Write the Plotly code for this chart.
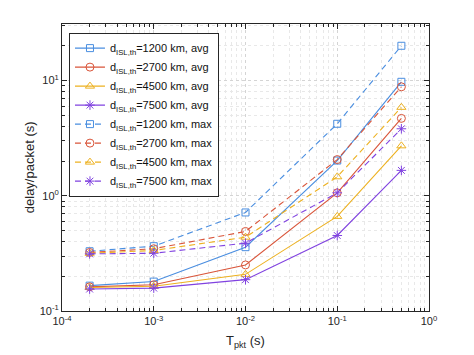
import plotly.graph_objects as go

t_pkt = [2e-4, 1e-3, 1e-2, 1e-1, 0.5]
distances = ["1200", "2700", "4500", "7500"]
avg_1200 = [0.166, 0.180, 0.358, 2.02, 9.74]
avg_2700 = [0.162, 0.169, 0.251, 1.06, 4.69]
avg_4500 = [0.160, 0.164, 0.208, 0.662, 2.71]
avg_7500 = [0.155, 0.158, 0.187, 0.452, 1.66]
max_1200 = [0.330, 0.365, 0.716, 4.21, 20.0]
max_2700 = [0.322, 0.347, 0.490, 2.06, 8.81]
max_4500 = [0.317, 0.335, 0.437, 1.46, 5.85]
max_7500 = [0.313, 0.317, 0.388, 1.06, 3.81]

x_tickvals = [1e-4, 1e-3, 1e-2, 1e-1, 1]
x_ticktext = ["10<sup>-4</sup>", "10<sup>-3</sup>", "10<sup>-2</sup>", "10<sup>-1</sup>", "10<sup>0</sup>"]
y_tickvals = [0.1, 1, 10]
y_ticktext = ["10<sup>-1</sup>", "10<sup>0</sup>", "10<sup>1</sup>"]

avg_series = [avg_1200, avg_2700, avg_4500, avg_7500]
max_series = [max_1200, max_2700, max_4500, max_7500]
colors = ["#4a8ee0", "#d9553a", "#edb120", "#8042e0"]
symbols = ["square-open", "circle-open", "triangle-up-open", "asterisk-open"]
sizes = [7, 8, 8, 8]

fig = go.Figure()
for kind, series, dash in [("avg", avg_series, "solid"), ("max", max_series, "6px,4px")]:
    for d, ys, c, s, sz in zip(distances, series, colors, symbols, sizes):
        fig.add_trace(go.Scatter(
            x=t_pkt, y=ys, mode="lines+markers",
            name=f"d<sub>ISL,th</sub>=%s km, %s" % (d, kind),
            line=dict(color=c, width=1.1, dash=dash),
            marker=dict(symbol=s, size=sz, color=c, line=dict(color=c, width=1)),
        ))

axis_common = dict(
    type="log", showline=True, linecolor="#262626", linewidth=1, mirror="allticks",
    ticks="inside", ticklen=5, tickcolor="#262626", tickmode="array",
    showgrid=True, gridcolor="#d4d4d4", griddash="dot",
    zeroline=False, tickfont=dict(size=11, color="#262626"),
    minor=dict(ticks="inside", ticklen=3, tickcolor="#262626", dtick="D1",
               showgrid=True, gridcolor="#e8e8e8", griddash="dot"),
)

fig.update_xaxes(**axis_common, range=[-4, 0], tickvals=x_tickvals, ticktext=x_ticktext,
                 title=dict(text="T<sub>pkt</sub> (s)", font=dict(size=13, color="#262626"), standoff=9))
fig.update_yaxes(**axis_common, range=[-1, 1.49], tickvals=y_tickvals, ticktext=y_ticktext)

fig.add_annotation(text="delay/packet (s)", textangle=-90, xref="paper", yref="paper",
                   x=-0.088, y=0.5, xanchor="center", yanchor="middle", showarrow=False,
                   font=dict(size=13, color="#262626"))

fig.update_layout(
    width=474, height=355,
    margin=dict(l=54, r=53, t=16, b=52, autoexpand=False),
    paper_bgcolor="white", plot_bgcolor="white",
    font=dict(family="Liberation Sans, Arial, sans-serif", color="#262626"),
    legend=dict(x=0.019, y=0.97, xanchor="left", yanchor="top",
                bgcolor="white", bordercolor="#262626", borderwidth=1,
                font=dict(size=11, color="#111111"), itemwidth=30,
                tracegroupgap=0),
    showlegend=True,
)

fig.write_html("out.html")
